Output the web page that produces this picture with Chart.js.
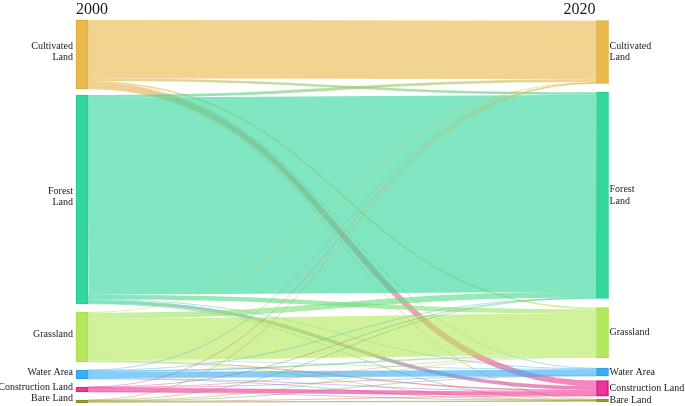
<!DOCTYPE html>
<html>
<head>
<meta charset="utf-8">
<script src="https://cdn.jsdelivr.net/npm/chart.js@4"></script>
<style>
html, body { margin: 0; padding: 0; background: #fff; }
#wrap { width: 685px; height: 406px; position: relative; }
</style>
</head>
<body>
<div id="wrap"><canvas id="sankeyChart"></canvas></div>
<script>
const years = ['2000', '2020'];
const landTypes = ['Cultivated Land', 'Forest Land', 'Grassland', 'Water Area', 'Construction Land', 'Bare Land'];

// area going from each 2000 class to the 2020 classes (same order as landTypes)
const fromCultivated = [58.5, 2.5, 1.5, 0.3, 5.8, 0.4];
const fromForest = [2.8, 197, 4.5, 0.6, 3.6, 0.5];
const fromGrassland = [0.8, 5.8, 41.5, 0.3, 1.4, 0.2];
const fromWater = [0.2, 0.3, 1.5, 6.3, 0.5, 0.2];
const fromConstruction = [0.1, 0.2, 0.4, 0.1, 4.1, 0.1];
const fromBare = [0.2, 0.2, 0.6, 0.2, 0.3, 1.2];
const flows = [fromCultivated, fromForest, fromGrassland, fromWater, fromConstruction, fromBare];

const nodeColors = ['#e9b94b', '#33d69b', '#b4e85c', '#3aaef5', '#f0359a', '#9b9b2c'];
const nodeBorders = ['#dcaa3c', '#24c98b', '#a6dc4e', '#2a9ee6', '#d81f84', '#88881f'];
const linkAlpha = 0.62;
const labelLines = [['Cultivated', 'Land'], ['Forest', 'Land'], ['Grassland'], ['Water Area'], ['Construction Land'], ['Bare Land']];

// spacing between the node boxes of each column (value units)
const leftGaps = [0, 6, 8, 8, 8, 8];
const rightGaps = [0.7, 9, 9.4, 10.5, 4.5, 3];
const nodeWidth = 12;

function stackColumn(sizes, gaps) {
    let y = 0;
    return sizes.map(function (s, i) {
        y += gaps[i];
        const node = { top: y, bottom: y + s };
        y += s;
        return node;
    });
}

const outTotals = flows.map(row => row.reduce((a, b) => a + b, 0));
const inTotals = landTypes.map((_, j) => flows.reduce((a, row) => a + row[j], 0));
const leftNodes = stackColumn(outTotals, leftGaps);
const rightNodes = stackColumn(inTotals, rightGaps);

function rgba(hex, a) {
    const n = parseInt(hex.slice(1), 16);
    return 'rgba(' + (n >> 16) + ',' + ((n >> 8) & 255) + ',' + (n & 255) + ',' + a + ')';
}

const linkPlugin = {
    id: 'landLinks',
    beforeDatasetsDraw(chart) {
        const ctx = chart.ctx;
        const xs = chart.scales.x, ys = chart.scales.y;
        const x0 = xs.getPixelForValue(0) + nodeWidth / 2;
        const x1 = xs.getPixelForValue(1) - nodeWidth / 2;
        const xm = (x0 + x1) / 2;
        const inOffset = landTypes.map(() => 0);
        ctx.save();
        ctx.lineCap = 'butt';
        flows.forEach(function (row, i) {
            let outOffset = 0;
            row.forEach(function (v, j) {
                const sy = ys.getPixelForValue(leftNodes[i].top + outOffset + v / 2);
                const ty = ys.getPixelForValue(rightNodes[j].top + inOffset[j] + v / 2);
                const w = Math.abs(ys.getPixelForValue(v) - ys.getPixelForValue(0));
                outOffset += v;
                inOffset[j] += v;
                const grad = ctx.createLinearGradient(x0, 0, x1, 0);
                grad.addColorStop(0, rgba(nodeColors[i], linkAlpha));
                grad.addColorStop(1, rgba(nodeColors[j], linkAlpha));
                ctx.strokeStyle = grad;
                ctx.lineWidth = Math.max(w, 0.7);
                ctx.beginPath();
                ctx.moveTo(x0, sy);
                ctx.bezierCurveTo(xm, sy, xm, ty, x1, ty);
                ctx.stroke();
            });
        });
        ctx.restore();
    },
    afterDatasetsDraw(chart) {
        const ctx = chart.ctx;
        const xs = chart.scales.x, ys = chart.scales.y;
        const lx = xs.getPixelForValue(0) - nodeWidth / 2;
        const rx = xs.getPixelForValue(1) + nodeWidth / 2;
        ctx.save();
        ctx.fillStyle = '#1a1a1a';
        ctx.font = '10px "Liberation Serif", "Times New Roman", serif';
        ctx.textBaseline = 'middle';
        function put(lines, x, mid, align) {
            ctx.textAlign = align;
            const start = mid - (lines.length - 1) * 5.75;
            lines.forEach(function (t, k) {
                ctx.fillText(t, x, start + k * 11.5);
            });
        }
        leftNodes.forEach(function (n, i) {
            put(labelLines[i], lx - 3, ys.getPixelForValue((n.top + n.bottom) / 2) - 2.5, 'right');
        });
        rightNodes.forEach(function (n, i) {
            put(labelLines[i], rx + 1, ys.getPixelForValue((n.top + n.bottom) / 2), 'left');
        });
        ctx.font = '16px "Liberation Serif", "Times New Roman", serif';
        ctx.textBaseline = 'alphabetic';
        ctx.textAlign = 'left';
        ctx.fillText(years[0], lx, 14);
        ctx.textAlign = 'right';
        ctx.fillText(years[1], rx - nodeWidth - 1, 14);
        ctx.restore();
    }
};

const nodePoints = leftNodes.map(n => ({ x: 0, y: [n.top, n.bottom] }))
    .concat(rightNodes.map(n => ({ x: 1, y: [n.top, n.bottom] })));

new Chart(document.getElementById('sankeyChart'), {
    type: 'bar',
    data: {
        datasets: [{
            data: nodePoints,
            backgroundColor: nodeColors.concat(nodeColors),
            borderColor: nodeBorders.concat(nodeBorders),
            borderWidth: [1, 1, 1, 1, 1, 1, 1, 1, 1, 1, 2, 1],
            borderSkipped: false,
            barThickness: nodeWidth,
            clip: false
        }]
    },
    options: {
        responsive: true,
        maintainAspectRatio: false,
        animation: false,
        layout: { padding: { left: 82, right: 82.5, top: 20, bottom: 3 } },
        plugins: {
            legend: { display: false },
            tooltip: { enabled: false }
        },
        scales: {
            x: { type: 'linear', min: 0, max: 1, offset: false, display: false },
            y: { type: 'linear', min: 0, max: 383, reverse: true, display: false }
        }
    },
    plugins: [linkPlugin]
});
</script>
</body>
</html>
